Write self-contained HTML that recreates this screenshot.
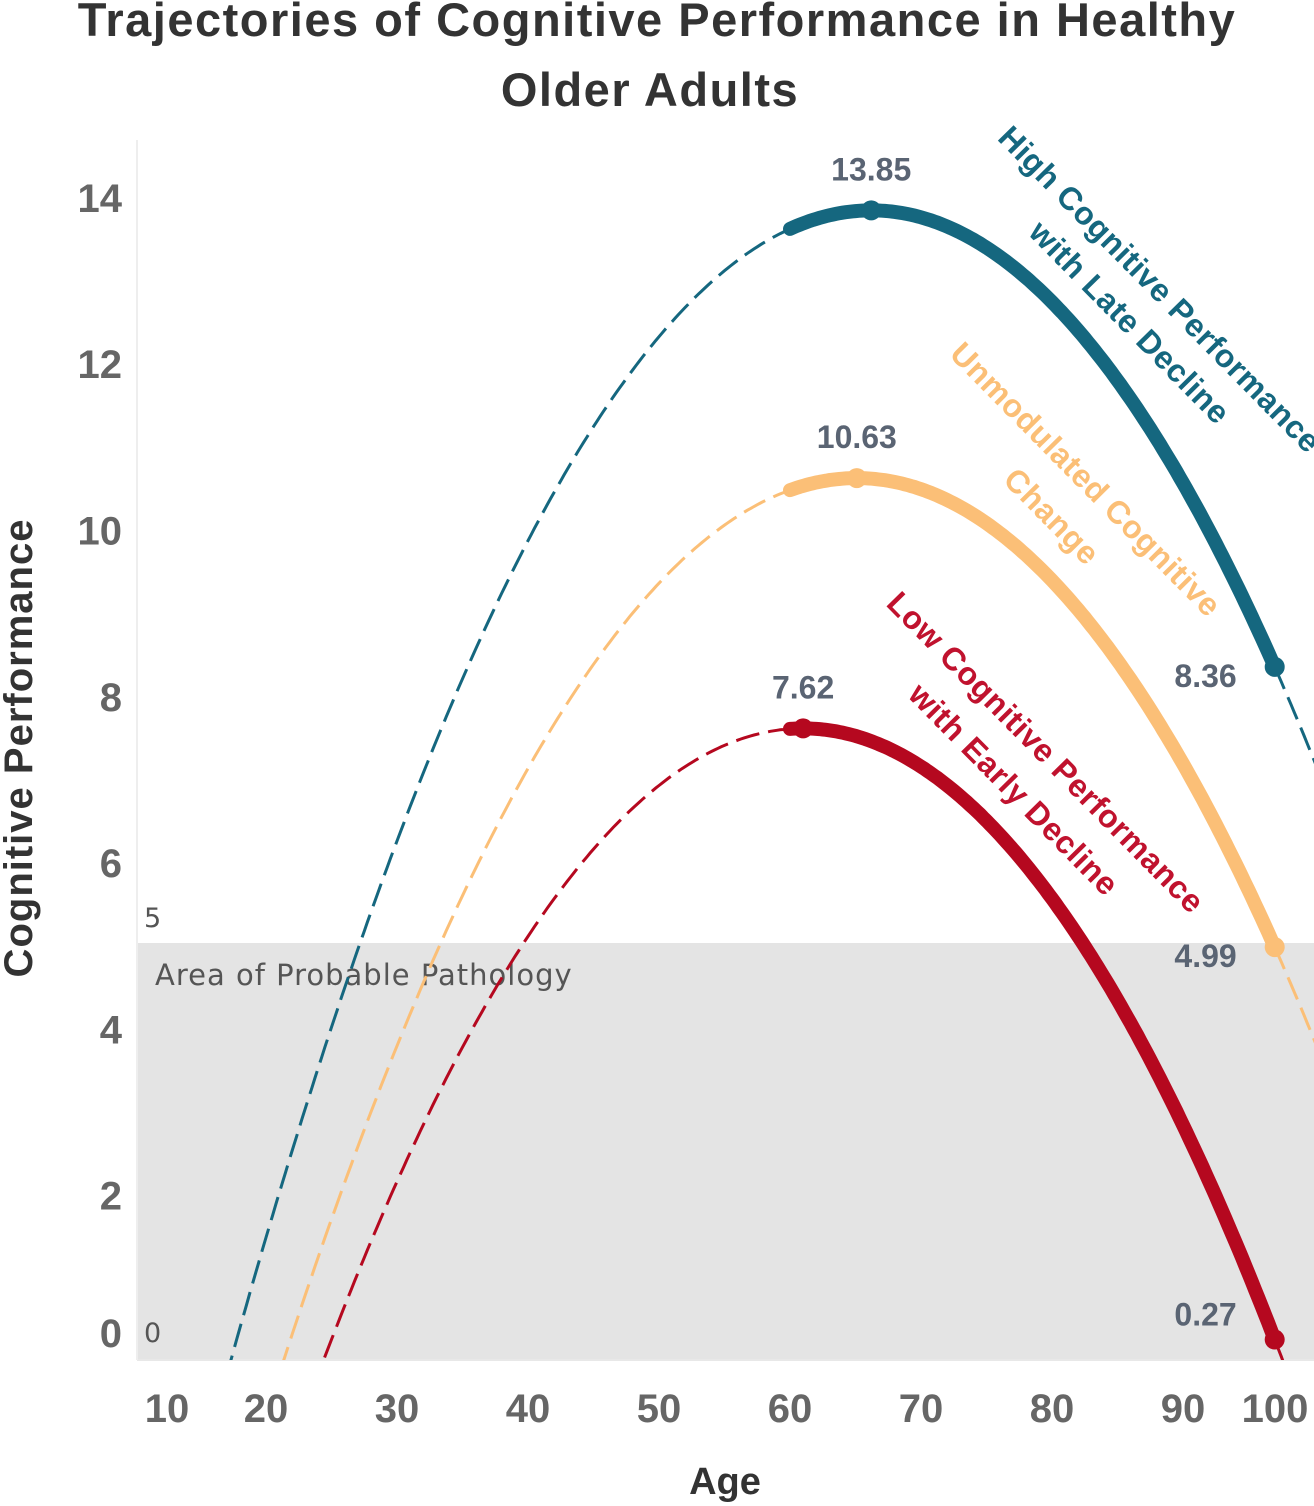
<!DOCTYPE html>
<html><head><meta charset="utf-8">
<style>
html,body{margin:0;padding:0;background:#fff;overflow:hidden;width:1314px;height:1506px;}
svg{display:block;}
</style></head>
<body>
<svg id="chart" width="1314" height="1506" viewBox="0 0 1314 1506" xmlns="http://www.w3.org/2000/svg" font-family="Liberation Sans, sans-serif">
<defs><clipPath id="plotclip"><rect x="137" y="140" width="1177" height="1220"/></clipPath></defs>
<text x="657" y="36" text-anchor="middle" font-size="47" fill="#333" font-weight="bold" letter-spacing="1.5">Trajectories of Cognitive Performance in Healthy</text>
<text x="650" y="106" text-anchor="middle" font-size="47" fill="#333" font-weight="bold" letter-spacing="1.5">Older Adults</text>
<rect x="137" y="943" width="1177" height="417" fill="#e4e4e4"/>
<text x="155" y="985" font-family="DejaVu Sans, sans-serif" font-size="29" letter-spacing="1" fill="#555">Area of Probable Pathology</text>
<text x="144" y="927" font-family="DejaVu Sans, sans-serif" font-size="27" fill="#555">5</text>
<text x="144" y="1342" font-family="DejaVu Sans, sans-serif" font-size="27" fill="#555">0</text>
<line x1="137" y1="1360" x2="1314" y2="1360" stroke="#e8e8e8" stroke-width="2"/>
<line x1="137" y1="140" x2="137" y2="1360" stroke="#eee" stroke-width="2"/>
<g id="ticks"></g>
<g id="series" clip-path="url(#plotclip)"></g>
<g id="labels"></g>
<text transform="translate(32,748) rotate(-90)" text-anchor="middle" font-size="40" letter-spacing="1" fill="#333" font-weight="bold">Cognitive Performance</text>
<text x="725" y="1494" text-anchor="middle" font-size="38" fill="#333" font-weight="bold">Age</text>
<g font-weight="bold" font-size="32" letter-spacing="0.5">
<text transform="translate(1152,297) rotate(45.4)" text-anchor="middle" fill="#15677f">High Cognitive Performance</text>
<text transform="translate(1122,330) rotate(45.4)" text-anchor="middle" fill="#15677f">with Late Decline</text>
<text transform="translate(1078,487) rotate(45.4)" text-anchor="middle" fill="#fbbf77">Unmodulated Cognitive</text>
<text transform="translate(1044,524) rotate(45.4)" text-anchor="middle" fill="#fbbf77">Change</text>
<text transform="translate(1038,760) rotate(45.4)" text-anchor="middle" fill="#c0122e">Low Cognitive Performance</text>
<text transform="translate(1006,797) rotate(45.4)" text-anchor="middle" fill="#c0122e">with Early Decline</text>
</g>
</svg>
<script>
const xTicks = [10,20,30,40,50,60,70,80,90,100];
const yTicks = [0,2,4,6,8,10,12,14];
const seriesNames = ['high','mid','low'];
const peakAges = [66.2, 65.1, 61];
const peakValues = [13.85, 10.63, 7.62];
const endAges = [97, 97, 97];
const endValues = [8.36, 4.99, 0.27];
const solidStartAges = [60, 60, 60];
const colors = ['#15677f','#fbbf77','#b5081f'];

const NS='http://www.w3.org/2000/svg';
const xs = a => 790 + (a-60)*13.1;
const ys = v => 1362 - v*83.15;
function mk(tag, attrs, parent){const e=document.createElementNS(NS,tag);for(const k in attrs)e.setAttribute(k,attrs[k]);parent.appendChild(e);return e;}
const tg=document.getElementById('ticks');
xTicks.forEach((t,i)=>{
  let x=xs(t); if(i===0)x=Math.max(x,167); if(i===xTicks.length-1)x=Math.min(x,1275);
  const e=mk('text',{x:x,y:1422,'text-anchor':'middle','font-size':40,'font-weight':'bold',fill:'#666'},tg);
  
  
  e.textContent=t;
});
yTicks.forEach(t=>{
  const y=t===0?1333:ys(t);
  const e=mk('text',{x:122,y:y+14,'text-anchor':'end','font-size':40,'font-weight':'bold',fill:'#666'},tg);
  
  
  e.textContent=t;
});
const sg=document.getElementById('series'), lg=document.getElementById('labels');
seriesNames.forEach((n,i)=>{
  const a=(peakValues[i]-endValues[i])/Math.pow(endAges[i]-peakAges[i],2);
  const f=age=>peakValues[i]-a*Math.pow(age-peakAges[i],2);
  const path=(a0,a1)=>{let d='';for(let t=a0;t<=a1+1e-9;t+=0.25){d+=(d?'L':'M')+xs(t).toFixed(1)+','+ys(f(t)).toFixed(1);}return d;};
  const d1=mk('path',{d:path(10,solidStartAges[i]),fill:'none',stroke:colors[i],'stroke-width':3,'stroke-dasharray':'24 9'},sg);
  
  
  const d2=mk('path',{d:path(endAges[i],106),fill:'none',stroke:colors[i],'stroke-width':3,'stroke-dasharray':'24 9'},sg);
  
  
  const s=mk('path',{d:path(solidStartAges[i],endAges[i]),fill:'none',stroke:colors[i],'stroke-width':14,'stroke-linecap':'round'},sg);
  
  
  [[peakAges[i],peakValues[i],'peak'],[endAges[i],endValues[i],'end']].forEach(([ag,v,k])=>{
    const c=mk('circle',{cx:xs(ag),cy:ys(v),r:10,fill:colors[i]},sg);
    
    
  });
  const pl=mk('text',{x:xs(peakAges[i]),y:ys(peakValues[i])-30,'text-anchor':'middle','font-size':32,'font-weight':'bold',fill:'#5a6473'},lg);
  
  
  pl.textContent=peakValues[i].toFixed(2);
  const el=mk('text',{x:xs(endAges[i])-38,y:i===2?ys(endValues[i])-14:ys(endValues[i])+20,'text-anchor':'end','font-size':32,'font-weight':'bold',fill:'#5a6473'},lg);
  
  
  el.textContent=endValues[i].toFixed(2);
});
</script>
</body></html>
